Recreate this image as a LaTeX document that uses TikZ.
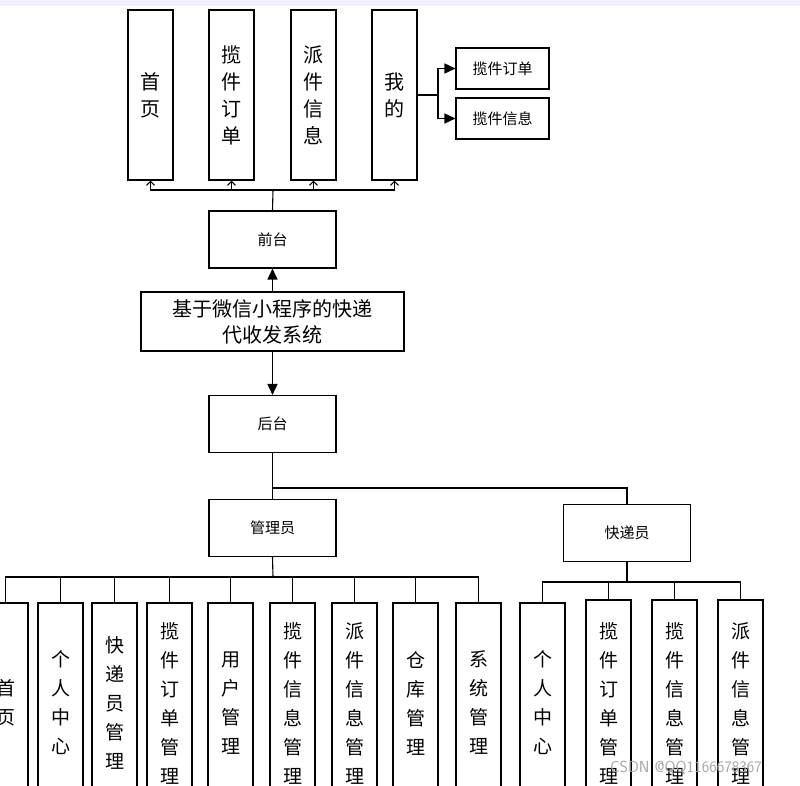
\documentclass[tikz,border=0pt]{standalone}
\usepackage{fontspec}
\setmainfont{Noto Sans CJK SC}
\usetikzlibrary{arrows.meta}
\begin{document}
\begin{tikzpicture}[x=1pt,y=-1pt,
  box/.style={draw,line width=1.1pt,inner sep=0pt,align=center},
  vtop/.style={box,minimum width=45pt,minimum height=170pt,font=\fontsize{20}{27}\selectfont},
  vbot/.style={box,minimum width=45pt,minimum height=200pt,font=\fontsize{19}{29}\selectfont},
  hbox/.style={box,minimum width=127pt,minimum height=57pt,font=\fontsize{15}{18}\selectfont},
  sbox/.style={box,minimum width=93pt,minimum height=41pt,font=\fontsize{15}{18}\selectfont},
  ln/.style={line width=1.1pt},
  oarr/.style={ln,-{Straight Barb[length=4pt,width=8pt]}},
  farr/.style={line width=1.6pt,-{Triangle[length=11pt,width=10pt]}}]
\useasboundingbox (0,0) rectangle (800,786);
\fill[blue!6] (0,0) rectangle (800,6);
% top row
\node[vtop] (sy) at (150.5,95) {首\\页};
\node[vtop] (ljdd) at (231.5,95) {揽\\件\\订\\单};
\node[vtop] (pjxx) at (313.5,95) {派\\件\\信\\息};
\node[vtop] (wd) at (394.5,95) {我\\的};
\node[sbox] (m1) at (502.5,68.5) {揽件订单};
\node[sbox] (m2) at (502.5,118.5) {揽件信息};
\coordinate (wj) at (438,95);
\draw[ln] (wd.east) -- (wj);
\draw[farr] (wj) |- (m1.west);
\draw[farr] (wj) |- (m2.west);
% center
\node[hbox] (qt) at (272.5,239.5) {前台};
\node[box,minimum width=263pt,minimum height=59pt,font=\fontsize{20}{26}\selectfont] (sys) at (272.5,321.5) {基于微信小程序的快递\\代收发系统};
\node[hbox] (ht) at (272.5,424) {后台};
\coordinate (tb) at (273,190);
\draw[ln] (qt.north) -- (tb);
\foreach \n in {sy,ljdd,pjxx,wd} \draw[oarr] (tb) -| (\n.south);
\draw[farr] (sys.north) -- (qt.south);
\draw[farr] (sys.south) -- (ht.north);
\node[hbox] (gly) at (272.5,528) {管理员};
\node[hbox] (kdy) at (627,533) {快递员};
\coordinate (hb) at (273,488);
\draw[ln] (ht.south) -- (gly.north);
\draw[ln] (hb) -| (kdy.north);
% admin children
\coordinate (ab) at (273,577);
\draw[ln] (gly.south) -- (ab);
\node[vbot] (a1) at (5.5,703) {首\\页};
\node[vbot] (a2) at (60.5,703) {个\\人\\中\\心};
\node[vbot] (a3) at (114.5,703) {快\\递\\员\\管\\理};
\node[vbot] (a4) at (169.5,703) {揽\\件\\订\\单\\管\\理};
\node[vbot] (a5) at (230.5,703) {用\\户\\管\\理};
\node[vbot] (a6) at (292.5,703) {揽\\件\\信\\息\\管\\理};
\node[vbot] (a7) at (354.5,703) {派\\件\\信\\息\\管\\理};
\node[vbot] (a8) at (415.5,703) {仓\\库\\管\\理};
\node[vbot] (a9) at (478.5,703) {系\\统\\管\\理};
\draw[ln] (a1.north) |- (ab) -| (a9.north);
\foreach \n in {a2,a3,a4,a5,a6,a7,a8} \draw[ln] (\n.north) -- (\n.north |- ab);
% courier children
\coordinate (cb) at (627,582);
\draw[ln] (kdy.south) -- (cb);
\node[vbot] (c1) at (542.5,703) {个\\人\\中\\心};
\node[vbot,minimum height=206pt] (c2) at (608.5,703) {揽\\件\\订\\单\\管\\理};
\node[vbot,minimum height=206pt] (c3) at (674.5,703) {揽\\件\\信\\息\\管\\理};
\node[vbot,minimum height=206pt] (c4) at (740.5,703) {派\\件\\信\\息\\管\\理};
\draw[ln] (c1.north) |- (cb) -| (c4.north);
\foreach \n in {c2,c3} \draw[ln] (\n.north) -- (\n.north |- cb);
\node[text=gray!70,font=\fontsize{16}{18}\selectfont\sffamily] (wm) at (686,768) {CSDN @QQ1166678367};
\end{tikzpicture}
\end{document}
